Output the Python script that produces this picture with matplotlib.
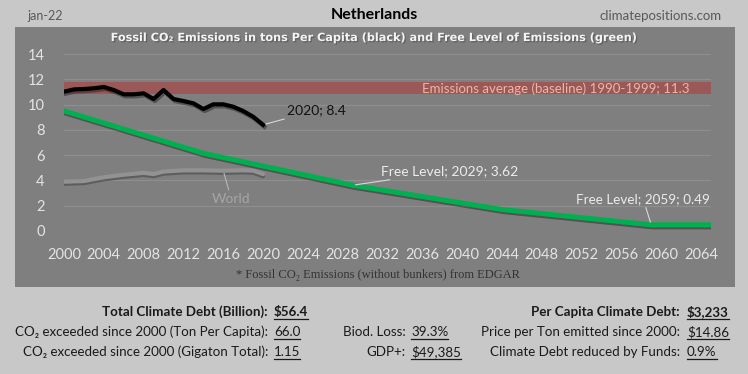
import matplotlib

matplotlib.use("Agg")
import matplotlib.pyplot as plt  # noqa: E402
from matplotlib import patheffects as pe  # noqa: E402
from matplotlib.lines import Line2D  # noqa: E402

plt.rcParams["font.family"] = ["Lato", "DejaVu Sans"]

# national fossil CO2 per capita (tons)
years = list(range(2000, 2021))
emissions = [11.02, 11.2, 11.23, 11.29, 11.39, 11.15, 10.81, 10.81, 10.89, 10.44,
             11.15, 10.44, 10.28, 10.1, 9.65, 10.02, 10.02, 9.83, 9.49, 9.04, 8.4]
# world average per capita
world_years = [2000, 2002, 2004, 2006, 2008, 2009, 2010, 2012, 2014, 2016, 2018, 2019, 2020]
world = [3.9, 3.95, 4.25, 4.45, 4.6, 4.5, 4.7, 4.8, 4.8, 4.77, 4.8, 4.78, 4.5]
# free level of emissions
free_years = [2000, 2014, 2029, 2044, 2059, 2065]
free_level = [9.5, 6.15, 3.62, 1.7, 0.49, 0.49]
baseline = 11.3
xticks = list(range(2000, 2065, 4))
yticks = [0, 2, 4, 6, 8, 10, 12, 14]

left_rows = [
    ("Total Climate Debt (Billion):", "$56.4", True),
    ("CO\u2082 exceeded since 2000 (Ton Per Capita):", "66.0", False),
    ("CO\u2082 exceeded since 2000 (Gigaton Total):", "1.15", False),
]
mid_rows = [("Biod. Loss:", "39.3%"), ("GDP+:", "$49,385")]
right_rows = [
    ("Per Capita Climate Debt:", "$3,233", True),
    ("Price per Ton emitted since 2000:", "$14.86", False),
    ("Climate Debt reduced by Funds:", "0.9%", False),
]

W, H = 748, 374
fig = plt.figure(figsize=(W / 100, H / 100), dpi=100)
fig.patch.set_facecolor("#c8c8c8")


def px(x, y):
    return x / W, 1 - y / H


# dark panel behind the chart
panel = plt.Rectangle(px(15, 287), 720 / W, 260 / H, transform=fig.transFigure,
                      facecolor="#7f7f7f", edgecolor="none", zorder=-5)
fig.patches.append(panel)

ax = fig.add_axes([64 / W, 1 - 231 / H, 647 / W, 177 / H])
ax.set_facecolor("none")
ax.set_xlim(2000, 2065)
ax.set_ylim(0, 14)
for s in ax.spines.values():
    s.set_visible(False)
ax.set_xticks(xticks)
ax.set_yticks(yticks)
ax.tick_params(length=0, colors="#e4e4e4", labelsize=10.5, pad=12)
ax.tick_params(axis="y", pad=14)
ax.grid(axis="y", color="#8e8e8e", lw=0.9)
ax.set_axisbelow(True)

ax.axhspan(baseline - 0.5, baseline + 0.45, color="#9a5858", lw=0, zorder=1)
ax.text(2062.8, baseline - 0.05, f"Emissions average (baseline) 1990-1999; {baseline}",
        ha="right", va="center", color="#f0b4a4", fontsize=9.5, zorder=2)

ax.plot(world_years, world, color="#929292", lw=3, solid_capstyle="round", zorder=3,
        path_effects=[pe.SimpleLineShadow(offset=(0, -1.5), shadow_color="#5a5a5a", alpha=0.9),
                      pe.Normal()])
ax.plot(free_years, free_level, color="#00b050", lw=3.6, zorder=4,
        path_effects=[pe.SimpleLineShadow(offset=(1, -1.5), alpha=0.35), pe.Normal()])
ax.plot(years, emissions, color="black", lw=3, solid_joinstyle="round", zorder=5,
        path_effects=[pe.SimpleLineShadow(offset=(1, -1.5), alpha=0.35), pe.Normal()])

lead = dict(arrowstyle="-", color="#d8d8d8", lw=0.8, shrinkA=0, shrinkB=2)
ax.annotate(f"{years[-1]}; {emissions[-1]}", xy=(years[-1], emissions[-1]),
            xytext=(2022.4, 9.55), ha="left", va="center", fontsize=10, color="#111111",
            arrowprops=lead, zorder=6)
ax.annotate("World", xy=(2016, 4.77), xytext=(2016.8, 2.55), ha="center", va="center",
            fontsize=10, color="#a6a6a6", arrowprops=dict(lead, color="#b8b8b8"), zorder=6)
ax.annotate(f"Free Level; {free_years[2]}; {free_level[2]}", xy=(free_years[2], free_level[2]),
            xytext=(2031.8, 4.75), ha="left", va="center", fontsize=10, color="#ececec",
            arrowprops=lead, zorder=6)
ax.annotate(f"Free Level; {free_years[4]}; {free_level[4]}", xy=(free_years[4], free_level[4]),
            xytext=(2064.9, 2.55), ha="right", va="center", fontsize=9.7, color="#ececec",
            arrowprops=lead, zorder=6)

# header texts
fig.text(*px(27, 16), "jan-22", ha="left", va="center", fontsize=9, color="#595959")
fig.text(*px(374, 15), "Netherlands", ha="center", va="center", fontsize=11.5,
         fontweight="bold", color="black")
fig.text(*px(722, 16), "climatepositions.com", ha="right", va="center", fontsize=9.5,
         color="#595959")
fig.text(*px(375, 38),
         "Fossil CO\u2082 Emissions in tons Per Capita (black) and Free Level of Emissions (green)",
         ha="center", va="center", fontsize=8.1, fontweight="bold", color="#f4f4f4",
         family="DejaVu Sans",
         path_effects=[pe.withSimplePatchShadow(offset=(1, -1), alpha=0.5)])
fig.text(*px(378, 275), "* Fossil CO\u2082 Emissions (without bunkers) from EDGAR",
         ha="center", va="center", fontsize=9, color="#333333",
         family=["Liberation Serif", "DejaVu Serif"])

# summary rows at the bottom
values = []
row_y = [312, 332, 352]
fs = 9.6
for (label, val, bold), y in zip(left_rows, row_y):
    w = "bold" if bold else "normal"
    fig.text(*px(268, y), label, ha="right", va="center", fontsize=fs, fontweight=w,
             color="#1a1a1a")
    values.append(fig.text(*px(274, y), val, ha="left", va="center", fontsize=fs,
                           fontweight=w, color="#1a1a1a"))
for (label, val), y in zip(mid_rows, row_y[1:]):
    fig.text(*px(406, y), label, ha="right", va="center", fontsize=fs, color="#1a1a1a")
    values.append(fig.text(*px(411, y), val, ha="left", va="center", fontsize=fs,
                           color="#1a1a1a"))
for (label, val, bold), y in zip(right_rows, row_y):
    w = "bold" if bold else "normal"
    fig.text(*px(680, y), label, ha="right", va="center", fontsize=fs, fontweight=w,
             color="#1a1a1a")
    values.append(fig.text(*px(687, y), val, ha="left", va="center", fontsize=fs,
                           fontweight=w, color="#1a1a1a"))

# underline the values
fig.canvas.draw()
renderer = fig.canvas.get_renderer()
for t in values:
    bb = t.get_window_extent(renderer)
    yy = (bb.y0 - 0.5) / H
    fig.lines.append(Line2D([bb.x0 / W, bb.x1 / W], [yy, yy], transform=fig.transFigure,
                            color="#1a1a1a", lw=0.9))

fig.savefig("out.png", dpi=100, facecolor=fig.get_facecolor())
